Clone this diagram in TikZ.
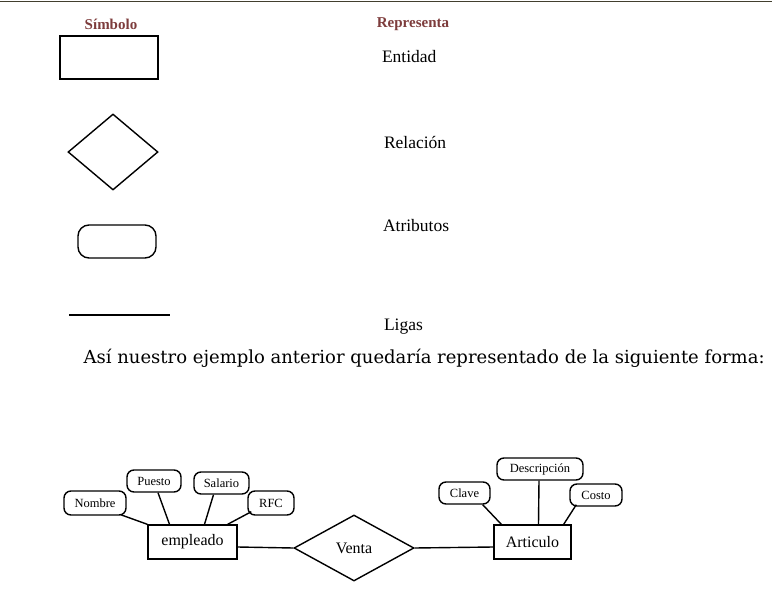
\documentclass[tikz,border=0pt]{standalone}
\usepackage{fontspec}
\setmainfont{Liberation Serif}
\newfontfamily\sentfont{DejaVu Serif}
\usetikzlibrary{shapes.geometric}
\definecolor{hdr}{RGB}{125,60,60}
\begin{document}
\begin{tikzpicture}[x=1pt,y=-1pt,line width=1.4pt,
  ent/.style={draw,rectangle,inner sep=0pt},
  rel/.style={draw,diamond,inner sep=0pt},
  att/.style={draw,rounded corners=7pt,inner sep=0pt,minimum height=22pt,font=\fontsize{12.5}{13}\selectfont},
  hd/.style={text=hdr,font=\fontsize{15}{16}\selectfont\bfseries},
  lab/.style={anchor=west,font=\fontsize{17.5}{18}\selectfont}]
\useasboundingbox (0,0) rectangle (772,605);
\draw[line width=1pt,color=black!70!olive] (0,1) -- (772,1);
\node[hd] (h1) at (111,24) {Símbolo};
\node[hd] (h2) at (413,24) {Representa};
\node[ent,minimum width=98pt,minimum height=43pt] (s1) at (109,57.5) {};
\node[rel,minimum width=90pt,minimum height=76pt] (s2) at (113,152) {};
\node[draw,rounded corners=11pt,minimum width=78pt,minimum height=33pt,inner sep=0pt] (s3) at (117,241.5) {};
\coordinate (la) at (69,315); \coordinate (lb) at (170,315);
\draw (la) -- (lb);
\node[lab] (t1) at (378,57) {Entidad};
\node[lab] (t2) at (380,142) {Relación};
\node[lab] (t3) at (379,226) {Atributos};
\node[lab] (t4) at (380,327) {Ligas};
\node[anchor=west,inner sep=0pt,font=\sentfont\fontsize{18}{19}\selectfont] (sent) at (83,358) {Así nuestro ejemplo anterior quedaría representado de la siguiente forma:};
% ER diagram
\node[ent,minimum width=89pt,minimum height=34pt,font=\fontsize{16}{17}\selectfont] (emp) at (192.5,542) {empleado};
\node[rel,minimum width=120pt,minimum height=66pt,font=\fontsize{16}{17}\selectfont] (ven) at (354,548) {Venta};
\node[ent,minimum width=77pt,minimum height=34pt,font=\fontsize{16}{17}\selectfont] (art) at (532.5,542) {Articulo};
\draw (emp.east |- 0,547) -- (ven.west);
\draw (ven.east) -- (art.west |- 0,547);
\node[att,minimum width=62pt,minimum height=24pt] (nom) at (95,503) {Nombre};
\node[att,minimum width=54pt] (pue) at (154,481) {Puesto};
\node[att,minimum width=55pt] (sal) at (221.5,483) {Salario};
\node[att,minimum width=46pt,minimum height=24pt] (rfc) at (271,503) {RFC};
\node[att,minimum width=51pt] (cla) at (464.5,493) {Clave};
\node[att,minimum width=86pt] (des) at (540,469) {Descripción};
\node[att,minimum width=52pt] (cos) at (596,495) {Costo};
\draw (nom.south east) ++(-6,-1) -- (emp.north west);
\draw (pue.south) ++(4,0) -- ([xshift=-23pt]emp.north);
\draw (sal.south) ++(-8,0) -- ([xshift=12pt]emp.north);
\draw (rfc.south west) ++(4,-4) -- ([xshift=-10pt]emp.north east);
\draw (cla.south east) ++(-8,0) -- ([xshift=8pt]art.north west);
\draw (des.south) ++(-1,0) -- ([xshift=6pt]art.north);
\draw (cos.south west) ++(7,-2) -- ([xshift=-8pt]art.north east);
\end{tikzpicture}
\end{document}
